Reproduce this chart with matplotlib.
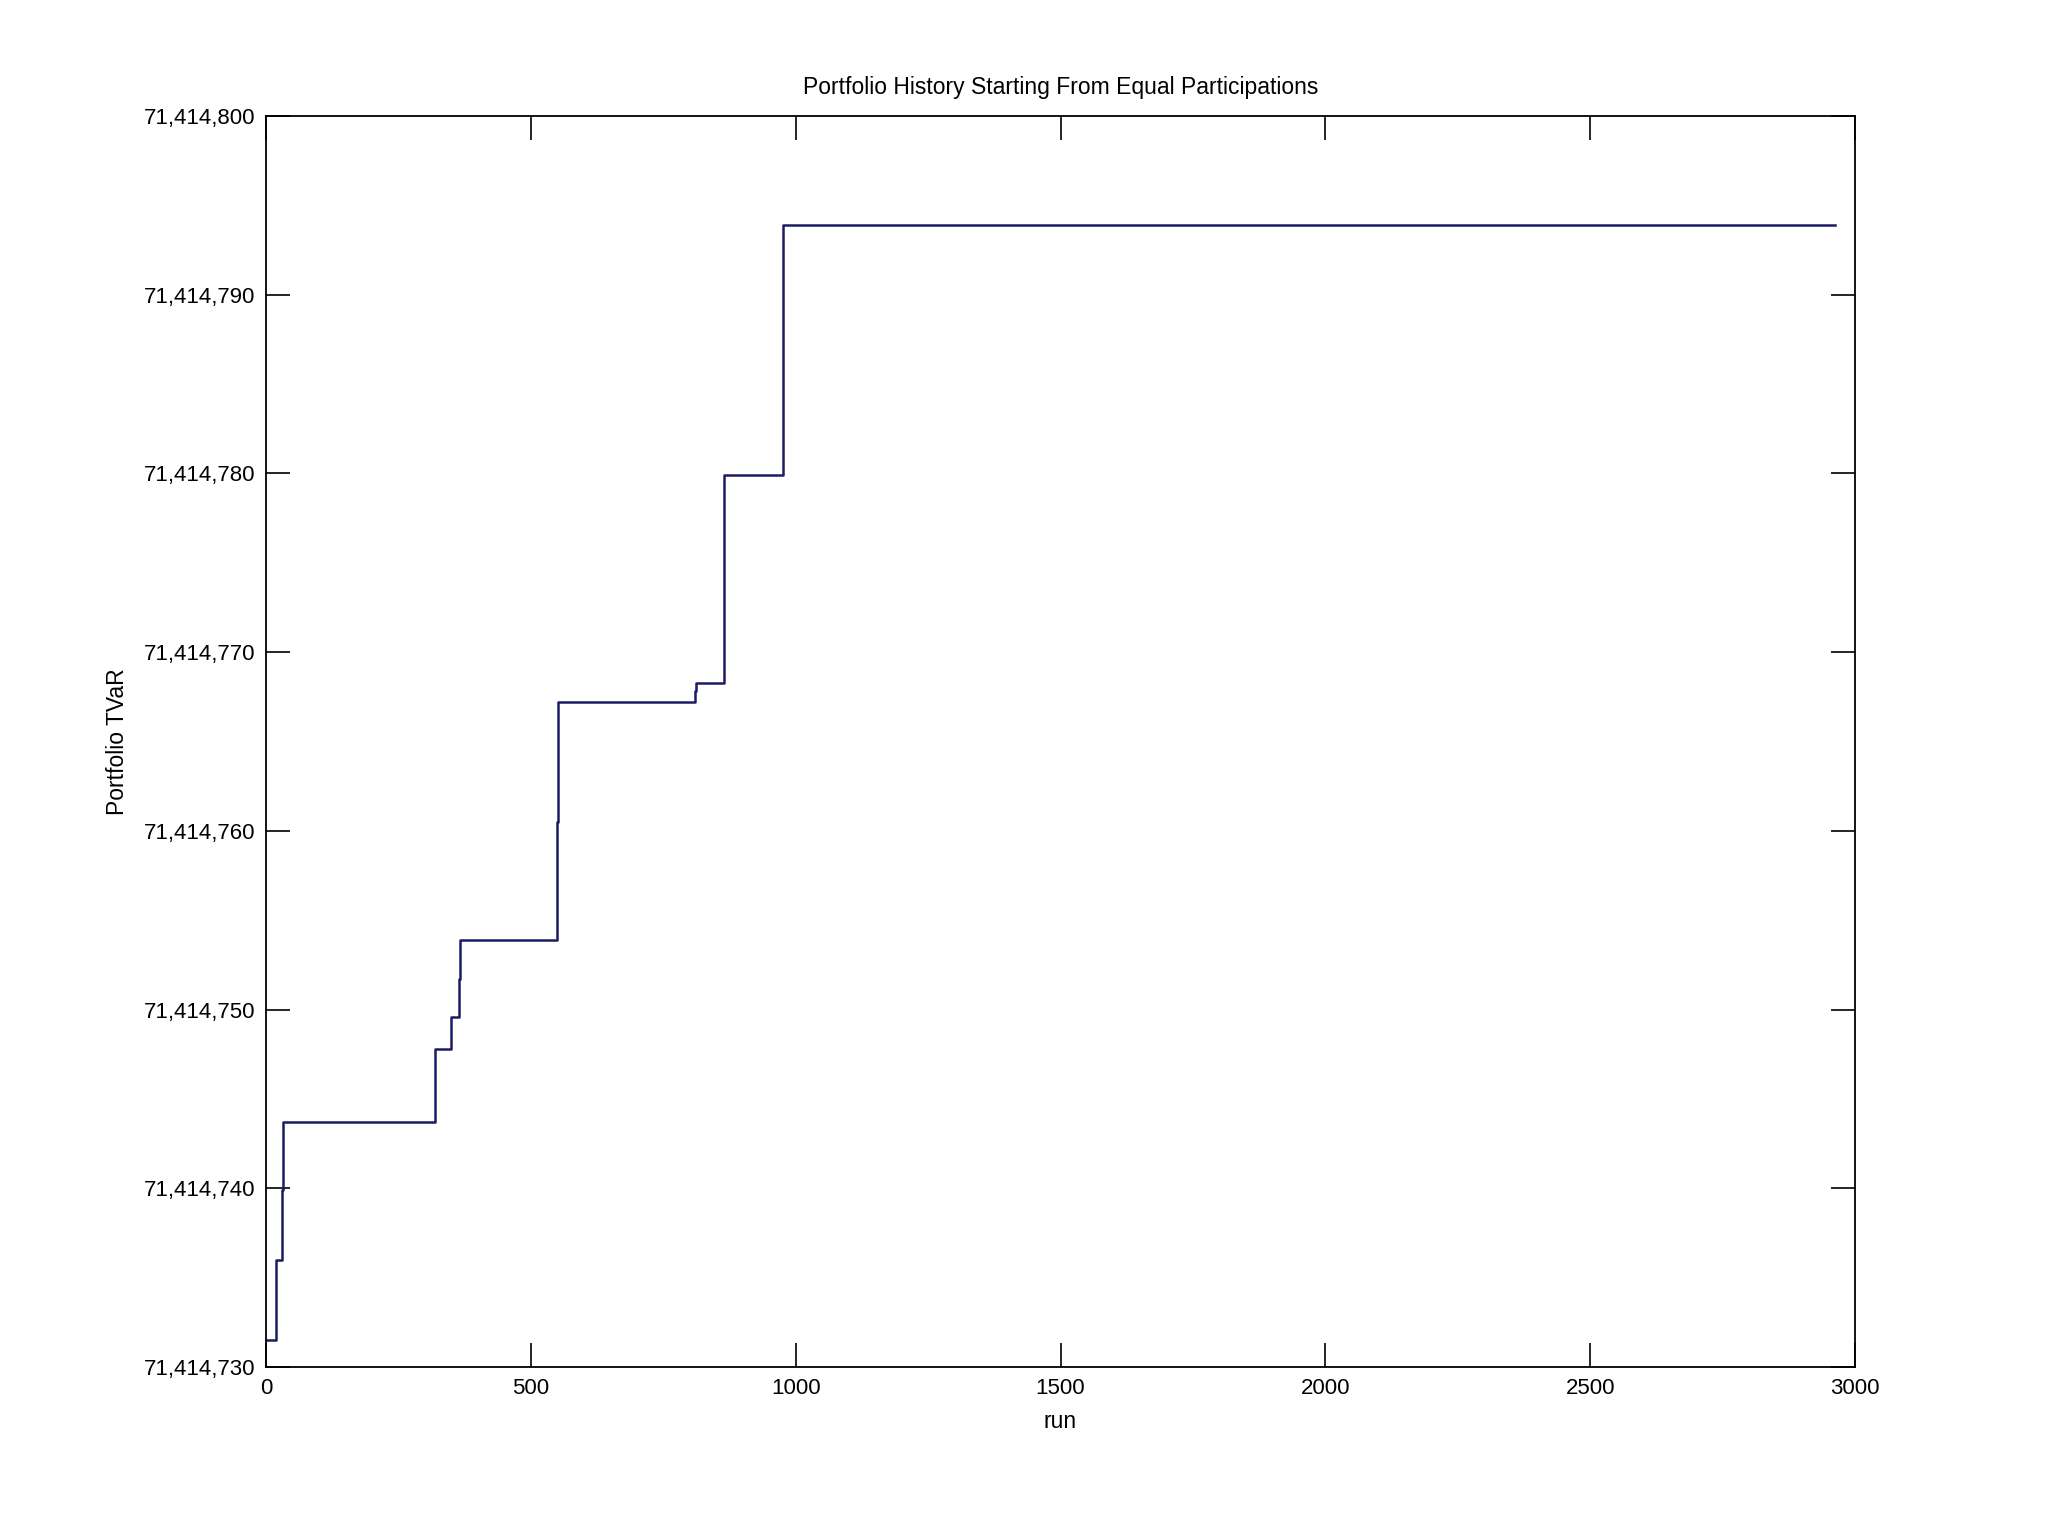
import numpy as np
import matplotlib
matplotlib.use("Agg")
import matplotlib.pyplot as plt
from matplotlib.ticker import FuncFormatter

# step history (run where a new level starts, level value)
runs = [0, 18, 31, 33, 320, 350, 364, 367, 549, 551, 809, 812, 865, 977, 2962]
tvar = [71414731.5, 71414736.0, 71414739.9, 71414743.7, 71414747.8,
        71414749.6, 71414751.7, 71414753.9, 71414760.5, 71414767.2,
        71414767.8, 71414768.3, 71414779.9, 71414793.9, 71414793.9]

x_ticks = [0, 500, 1000, 1500, 2000, 2500, 3000]
y_ticks = [71414730, 71414740, 71414750, 71414760, 71414770, 71414780, 71414790, 71414800]

plt.rcParams['font.family'] = ['Liberation Sans', 'DejaVu Sans']

fig = plt.figure(figsize=(20.48, 15.36), dpi=100)
ax = fig.add_axes([266 / 2048, 1 - 1367 / 1536, (1855 - 266) / 2048, (1367 - 116) / 1536])

ax.plot(runs, tvar, drawstyle='steps-post', color='#1c1c64', linewidth=1.8)

ax.set_xlim(0, 3000)
ax.set_ylim(71414730, 71414800)
ax.set_xticks(x_ticks)
ax.set_yticks(y_ticks)
ax.yaxis.set_major_formatter(FuncFormatter(lambda v, p: f"{v:,.0f}"))

ax.tick_params(direction='in', length=17, width=1.2, top=True, right=True,
               labelsize=16, pad=8, colors='black')
for s in ax.spines.values():
    s.set_linewidth(1.3)

ax.set_title("Portfolio History Starting From Equal Participations", fontsize=16.5, pad=16)
ax.set_xlabel("run", fontsize=16.5, labelpad=8)
ax.set_ylabel("Portfolio TVaR", fontsize=16.5, labelpad=10)

fig.savefig("out.png", dpi=100, facecolor='white')
